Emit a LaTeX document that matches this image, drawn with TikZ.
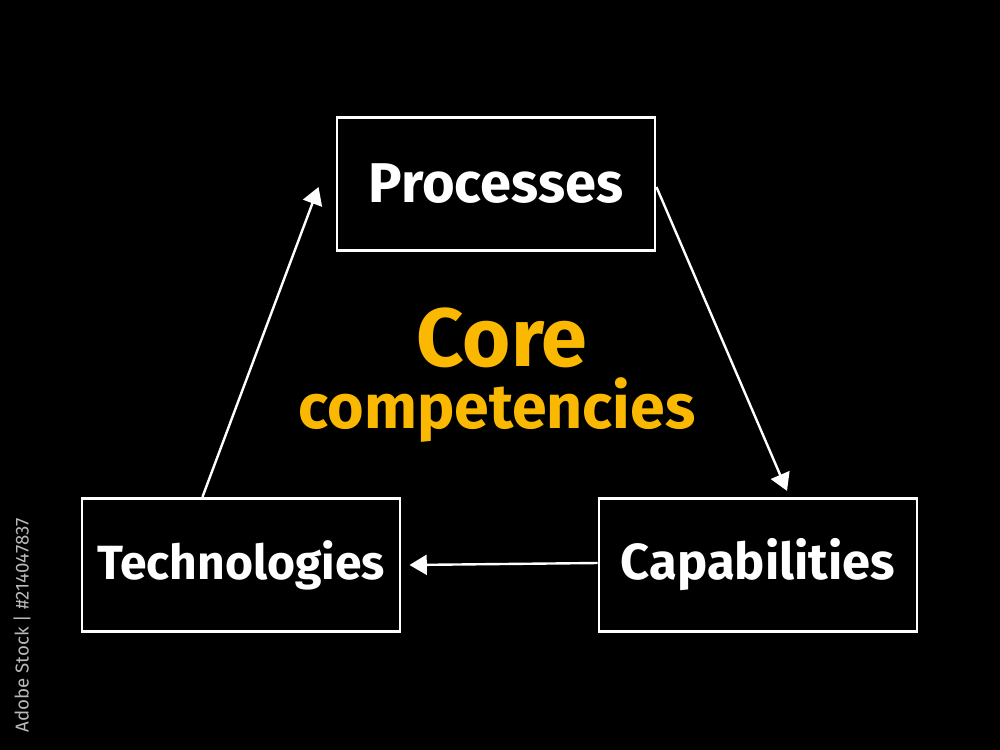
\documentclass[tikz,border=0pt]{standalone}
\usepackage{fontspec}
\setmainfont{Fira Sans}
\usetikzlibrary{arrows.meta,calc}
\definecolor{coreyellow}{RGB}{250,185,0}
\definecolor{wmgrey}{RGB}{185,185,185}
\tikzset{
  box/.style={draw=white, line width=2.2pt, minimum width=238.5pt, minimum height=100pt, inner sep=0pt, text=white, font=\fontsize{36}{40}\selectfont\bfseries},
  flow/.style={draw=white, line width=1.8pt, -{Triangle[width=15pt,length=13pt,fill=white]}},
}
\begin{document}
\begin{tikzpicture}[x=0.75pt, y=-0.75pt]
  \fill[black] (0,0) rectangle (1000,750);
  \useasboundingbox (0,0) rectangle (1000,750);
  \node[box, font=\fontsize{42}{46}\selectfont\bfseries] (proc) at (496,184) {Processes};
  \node[box, font=\fontsize{36}{40}\selectfont\bfseries] (tech) at (241,565) {Technologies};
  \node[box, font=\fontsize{38}{42}\selectfont\bfseries] (capa) at (758,565) {Capabilities};
  \node[inner sep=0pt, text=coreyellow, font=\fontsize{62}{66}\selectfont\bfseries] (core) at (502,338) {Core};
  \node[inner sep=0pt, text=coreyellow, font=\fontsize{47}{50}\selectfont\bfseries] (comp) at (497,410) {competencies};
  \coordinate (t1) at ([shift={(-17,3)}]proc.west);
  \coordinate (t2) at ([shift={(29,-6)}]capa.north);
  \coordinate (t3) at ([shift={(8,0)}]tech.east);
  \draw[flow] ($(tech.north west)!0.38!(tech.north east)$) -- (t1);
  \draw[flow] ([shift={(0,3)}]proc.east) -- (t2);
  \draw[flow] ([shift={(0,-2)}]capa.west) -- (t3);
  \node[rotate=90, text=wmgrey, font=\fontsize{14}{16}\selectfont] (wm) at (22,625) {Adobe Stock | \#214047837};
\end{tikzpicture}
\end{document}
